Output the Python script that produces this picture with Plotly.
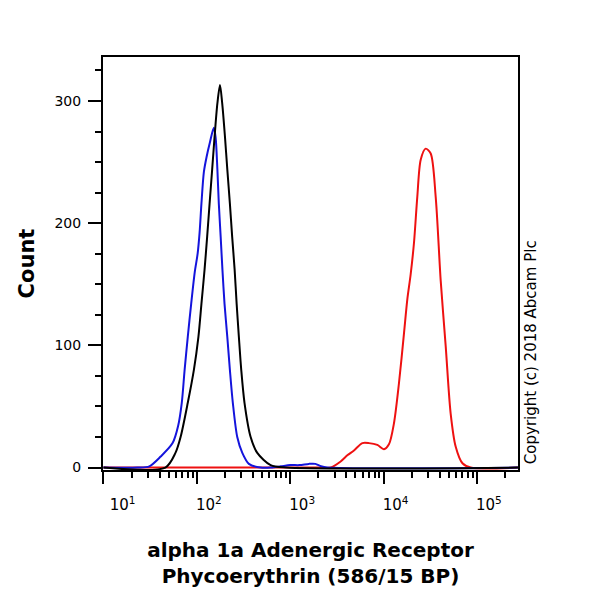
import plotly.graph_objects as go

# ---- data (fluorescence intensity vs count) ----
black_x = [10, 46, 59, 67, 80, 93, 104, 112, 121, 129, 137, 146, 155, 166, 177, 187, 200, 212,
           226, 239, 254, 267, 282, 299, 324, 377, 444, 617, 900, 275000]
black_y = [0, 0, 12, 25, 53, 80, 107, 134, 162, 189, 216, 244, 271, 298, 313, 298, 271, 244,
           216, 189, 162, 134, 107, 80, 53, 25, 12, 2, 0, 0]

blue_x = [10, 23, 31, 41, 55, 63, 69, 74, 80, 87, 95, 102, 107, 112, 119, 127, 138, 152, 159, 166,
          172, 180, 188, 198, 212, 226, 243, 271, 307, 361, 482, 620, 794, 1000, 1259, 1585, 1862,
          2138, 2512, 275000]
blue_y = [0, 0, 1, 9, 20, 34, 53, 80, 107, 134, 160, 175, 192, 216, 242, 254, 266, 278, 270, 244,
          216, 189, 162, 134, 107, 80, 53, 25, 12, 3, 0, 0, 1, 2, 2, 3, 3, 1, 0, 0]

red_x = [10, 1950, 2710, 3470, 4090, 4820, 5930, 6980, 8570, 10090, 11420, 12910, 14620, 16560,
         17990, 19500, 21180, 23000, 25000, 28250, 31990, 36140, 40930, 46340, 52360, 59290,
         69980, 85700, 275000]
red_y = [0, 0, 0, 5, 10, 14, 20, 20, 18.5, 15, 19, 36, 69, 110, 138, 158, 184, 222, 252, 261,
         257, 222, 153, 99, 44, 17, 3.5, 0, 0]

x_tickvals = [10, 100, 1000, 10000, 100000]
x_ticktext = ["\u00a0\u00a0\u00a010<sup>1</sup>", "10<sup>2</sup>", "10<sup>3</sup>",
              "10<sup>4</sup>", "10<sup>5</sup>"]
y_tickvals = [0, 100, 200, 300]

FONT = "DejaVu Sans, Verdana, Arial, sans-serif"

fig = go.Figure()
for xs, ys, col in [(red_x, red_y, "#ee1111"), (blue_x, blue_y, "#1414dc"), (black_x, black_y, "#000000")]:
    fig.add_trace(go.Scatter(x=xs, y=ys, mode="lines",
                             line=dict(color=col, width=2, shape="spline", smoothing=0.8),
                             hoverinfo="skip", showlegend=False))

fig.update_layout(
    width=600, height=600,
    margin=dict(l=103, r=82, t=57, b=130),
    paper_bgcolor="white", plot_bgcolor="white",
    font=dict(family=FONT, color="black", size=14),
    showlegend=False,
)

fig.update_xaxes(
    type="log", range=[0.995, 5.44],
    tickmode="array", tickvals=x_tickvals, ticktext=x_ticktext,
    ticks="outside", ticklen=12, tickwidth=2, tickcolor="black",
    minor=dict(ticks="outside", ticklen=6, tickwidth=2, tickcolor="black", dtick="D1"),
    ticklabelshift=12, ticklabelstandoff=8,
    tickfont=dict(size=15, family=FONT, color="black"),
    showline=True, linewidth=2, linecolor="black", mirror=True,
    showgrid=False, zeroline=False,
    title=dict(text="<b>alpha 1a Adenergic Receptor<br>Phycoerythrin (586/15 BP)</b>",
               font=dict(size=20, family=FONT, color="black"), standoff=30),
)

fig.update_yaxes(
    range=[-2, 336],
    tickmode="array", tickvals=y_tickvals,
    ticks="outside", ticklen=13, tickwidth=2, tickcolor="black",
    minor=dict(ticks="outside", ticklen=6, tickwidth=2, tickcolor="black", dtick=25, tick0=0),
    ticklabelstandoff=4,
    tickfont=dict(size=14, family=FONT, color="black"),
    showline=True, linewidth=2, linecolor="black", mirror=True,
    showgrid=False, zeroline=False,
    title=dict(text="<b>Count</b>", font=dict(size=21, family=FONT, color="black"), standoff=14),
)

fig.add_annotation(
    text="Copyright (c) 2018 Abcam Plc", textangle=-90,
    xref="paper", yref="paper", x=1.031, y=0.285,
    xanchor="center", yanchor="middle", showarrow=False,
    font=dict(size=15, family=FONT, color="black"),
)

fig.write_html("out.html")
